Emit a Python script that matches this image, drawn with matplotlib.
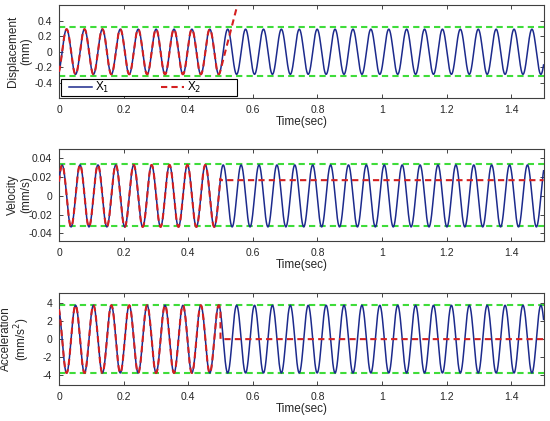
import numpy as np
import matplotlib
matplotlib.use("Agg")
import matplotlib.pyplot as plt
from matplotlib.ticker import FuncFormatter
from matplotlib.patches import Rectangle

plt.rcParams['font.family'] = ['Liberation Sans', 'DejaVu Sans']
plt.rcParams['axes.unicode_minus'] = False

# values
freq_hz = 18.05          # oscillation frequency
t_trough = -0.0042       # a displacement trough (phase reference), s
t_switch = 0.5           # time where X2 leaves X1, s
t_end = 1.5

disp_amp = 0.29          # mm
vel_amp = 0.033          # mm/s
acc_amp = 3.8            # mm/s^2

disp_bound = [0.32, -0.31]
vel_bound = [0.034, -0.032]
acc_bound = [3.8, -3.75]

x2_disp_slope = 16.0     # mm/s drift of X2 after the switch
x2_vel_after = 0.0168    # mm/s
x2_acc_after = 0.0

ylabels = ['Displacement\n(mm)', 'Velocity\n(mm/s)', 'Acceleration\n(mm/s$^2$)']
yticks = [[-0.4, -0.2, 0, 0.2, 0.4],
          [-0.04, -0.02, 0, 0.02, 0.04],
          [-4, -2, 0, 2, 4]]
ylims = [(-0.59, 0.60), (-0.048, 0.05), (-5.15, 5.2)]
xticks = [0, 0.2, 0.4, 0.6, 0.8, 1.0, 1.2, 1.4]

# series
t = np.linspace(0, t_end, 4000)
w = 2 * np.pi * freq_hz
ph = w * (t - t_trough)
x1 = [-disp_amp * np.cos(ph), vel_amp * np.sin(ph), acc_amp * np.cos(ph)]

before = t < t_switch
ph_s = w * (t_switch - t_trough)
x2 = [np.where(before, x1[0], -disp_amp * np.cos(ph_s) + x2_disp_slope * (t - t_switch)),
      np.where(before, x1[1], x2_vel_after),
      np.where(before, x1[2], x2_acc_after)]
bounds = [disp_bound, vel_bound, acc_bound]

BLUE = '#1c2a8c'
RED = '#d42020'
GREEN = '#3fdc3a'

fig = plt.figure(figsize=(5.5, 4.21), dpi=100)
rects = [[0.1073, 0.768, 0.881, 0.220],
         [0.1073, 0.4276, 0.881, 0.2185],
         [0.1073, 0.0855, 0.881, 0.219]]

fmt = FuncFormatter(lambda v, p: '%g' % round(v, 6))

for i in range(3):
    ax = fig.add_axes(rects[i])
    ax.plot(t, x1[i], color=BLUE, lw=1.1, label='X$_1$', zorder=3)
    ax.plot(t, x2[i], color=RED, lw=1.5, ls=(0, (3, 2)), label='X$_2$', zorder=4)
    for b in bounds[i]:
        ax.axhline(b, color=GREEN, lw=1.5, ls=(0, (3, 2)), zorder=2)
    ax.set_xlim(0, t_end)
    ax.set_ylim(*ylims[i])
    ax.set_xticks(xticks)
    ax.set_yticks(yticks[i])
    ax.xaxis.set_major_formatter(fmt)
    ax.yaxis.set_major_formatter(fmt)
    ax.tick_params(direction='in', length=3, width=0.6, labelsize=7.5,
                   top=True, right=True, colors='#262626', pad=5)
    for s in ax.spines.values():
        s.set_color('#404040')
        s.set_linewidth(0.8)
    ax.set_xlabel('Time(sec)', fontsize=8.5, labelpad=1, color='#262626')
    ax.set_ylabel(ylabels[i], fontsize=8.5, color='#262626', linespacing=1.05)
    ax.yaxis.set_label_coords(-0.056, 0.5)
    if i == 0:
        box = Rectangle((0.004, 0.018), 0.364, 0.182, transform=ax.transAxes,
                        facecolor='white', edgecolor='black', lw=0.8, zorder=5)
        ax.add_patch(box)
        leg = ax.legend(loc='center left', ncol=2, fontsize=8.5, frameon=False,
                        borderpad=0, handlelength=2.0, handletextpad=0.25,
                        columnspacing=4.3, bbox_to_anchor=(0.008, 0.105))
        leg.set_zorder(6)

fig.savefig('out.png', dpi=100)
